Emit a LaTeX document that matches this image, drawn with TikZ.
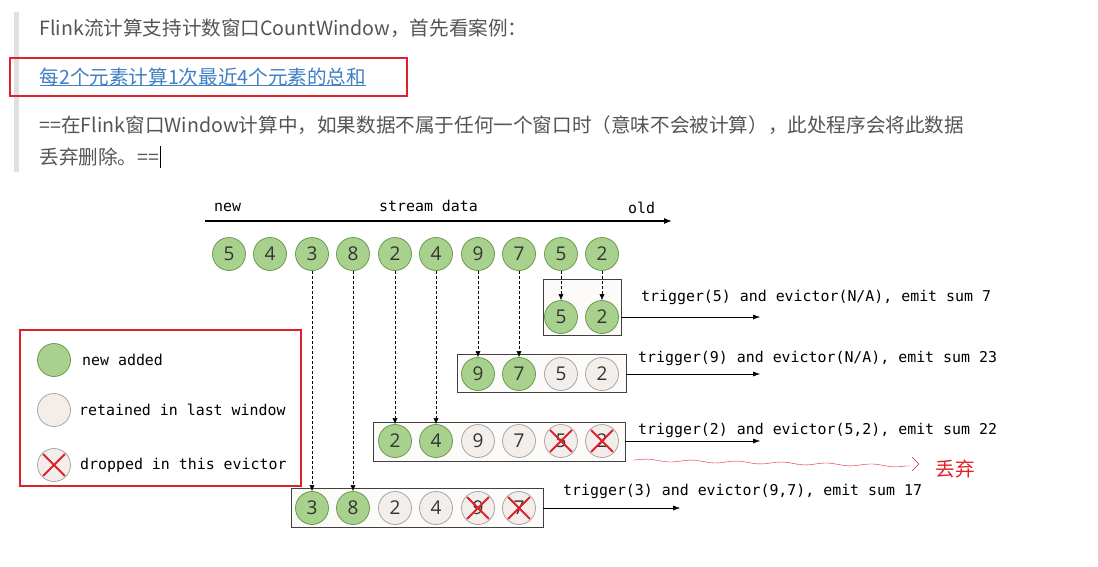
\documentclass[tikz,border=0pt]{standalone}
\usepackage{fontspec}
\setmainfont{Noto Sans CJK SC}
\newfontfamily\monof{DejaVu Sans Mono}
\newfontfamily\numf{Open Sans}
\usetikzlibrary{arrows.meta,decorations.pathmorphing,calc}
\definecolor{grn}{HTML}{A9D18E}
\definecolor{grnb}{HTML}{6B9A4F}
\definecolor{ret}{HTML}{F3EEEA}
\definecolor{txt}{HTML}{555555}
\definecolor{lnk}{HTML}{3F7FC6}
\definecolor{rd}{HTML}{E0202A}
\tikzset{
 nw/.style={circle,draw=grnb,line width=0.8pt,fill=grn,minimum size=33pt,inner sep=0,font=\numf\fontsize{19}{19}\selectfont,text=black!80},
 rt/.style={circle,draw=gray!70,line width=0.8pt,fill=ret,minimum size=33pt,inner sep=0,font=\numf\fontsize{19}{19}\selectfont,text=black!80},
 win/.style={draw=black!75,fill=ret!25,line width=1pt},
 lbl/.style={anchor=west,font=\monof\fontsize{14.9}{15}\selectfont,inner sep=0},
 dsh/.style={densely dashed,-{Latex[length=6pt,width=5pt]}},
 outarr/.style={-{Latex[length=7pt,width=5pt]}},
 crs/.style={rd,line width=1.8pt},
 bt/.style={anchor=west,text=txt,font=\fontsize{19.6}{20}\selectfont}
}
\newcommand{\xx}[1]{\draw[crs] ($(#1.north west)+(1pt,-1pt)$) -- ($(#1.south east)+(-1pt,1pt)$); \draw[crs] ($(#1.north east)+(-1pt,-1pt)$) -- ($(#1.south west)+(1pt,1pt)$);}
\begin{document}
\begin{tikzpicture}[x=1pt,y=-1pt]
\useasboundingbox (0,0) rectangle (1098,566);
\fill[white] (0,0) rectangle (1098,566);
\fill[black!12] (14,12) rectangle (19,172);
\node[bt] (t1) at (36,28) {Flink流计算支持计数窗口CountWindow，首先看案例：};
\node[bt,text=lnk] (t2) at (36,77) {\underbar{每2个元素计算1次最近4个元素的总和}};
\draw[rd,line width=1.5pt] (10,58) rectangle (407,96);
\node[bt] (t3) at (36,125) {==在Flink窗口Window计算中，如果数据不属于任何一个窗口时（意味不会被计算），此处程序会将此数据};
\node[bt] (t4) at (36,157) {丢弃删除。==};
\draw (160,146) -- (160,168);
% axis
\coordinate (a0) at (205,221); \coordinate (a1) at (672,221);
\draw[line width=1.2pt,-{Latex[length=8pt]}] (a0) -- (a1);
\node[lbl] (nw) at (214,207) {new};
\node[lbl] (sd) at (379,206) {stream data};
\node[lbl] (od) at (628,208) {old};
% top row
\foreach \v/\x [count=\i] in {5/229,4/270,3/312,8/353,2/395,4/436,9/478,7/519,5/561,2/602}
  \node[nw] (s\i) at (\x,254) {\v};
% windows
\draw[win] (543,279) rectangle (621,335);
\node[nw] (w1a) at (561,317) {5}; \node[nw] (w1b) at (602,317) {2};
\draw[win] (457,354) rectangle (626,392);
\node[nw] (w2a) at (478,374) {9}; \node[nw] (w2b) at (519,374) {7};
\node[rt] (w2c) at (561,374) {5}; \node[rt] (w2d) at (602,374) {2};
\draw[win] (373,422) rectangle (625,461);
\node[nw] (w3a) at (395,441) {2}; \node[nw] (w3b) at (436,441) {4};
\node[rt] (w3c) at (478,441) {9}; \node[rt] (w3d) at (519,441) {7};
\node[rt] (w3e) at (561,441) {5}; \node[rt] (w3f) at (602,441) {2};
\xx{w3e}\xx{w3f}
\draw[win] (291,488) rectangle (543,527);
\node[nw] (w4a) at (312,508) {3}; \node[nw] (w4b) at (353,508) {8};
\node[rt] (w4c) at (395,508) {2}; \node[rt] (w4d) at (436,508) {4};
\node[rt] (w4e) at (478,508) {9}; \node[rt] (w4f) at (519,508) {7};
\xx{w4e}\xx{w4f}
% dashed arrows
\foreach \s/\t in {s9/w1a,s10/w1b,s7/w2a,s8/w2b,s5/w3a,s6/w3b,s3/w4a,s4/w4b}
  \draw[dsh] (\s) -- (\t);
% outputs
\coordinate (o1) at (760,317); \coordinate (o2) at (760,374);
\coordinate (o3) at (760,441); \coordinate (o4) at (680,508);
\draw[outarr] (621,317) -- (o1); \draw[outarr] (626,374) -- (o2);
\draw[outarr] (625,441) -- (o3); \draw[outarr] (543,508) -- (o4);
\node[lbl] (l1) at (641,297) {trigger(5) and evictor(N/A), emit sum 7};
\node[lbl] (l2) at (638,358) {trigger(9) and evictor(N/A), emit sum 23};
\node[lbl] (l3) at (638,430) {trigger(2) and evictor(5,2), emit sum 22};
\node[lbl] (l4) at (563,491) {trigger(3) and evictor(9,7), emit sum 17};
% annotation
\draw[rd,decorate,decoration={snake,amplitude=1.2pt,segment length=45pt}] (633,460) -- (910,466);
\draw[rd] (912,457) -- (919,464) -- (912,471);
\node[anchor=west,text=rd,font=\fontsize{19.6}{20}\selectfont] (df) at (932,469) {丢弃};
% legend
\draw[rd,line width=1.5pt] (20,330) rectangle (301,486);
\node[nw] (g1) at (54,360) {}; \node[rt] (g2) at (54,410) {}; \node[rt] (g3) at (54,465) {};
\xx{g3}
\node[lbl] (gl1) at (82,360) {new added};
\node[lbl] (gl2) at (79,410) {retained in last window};
\node[lbl] (gl3) at (80,465) {dropped in this evictor};
\end{tikzpicture}
\end{document}
